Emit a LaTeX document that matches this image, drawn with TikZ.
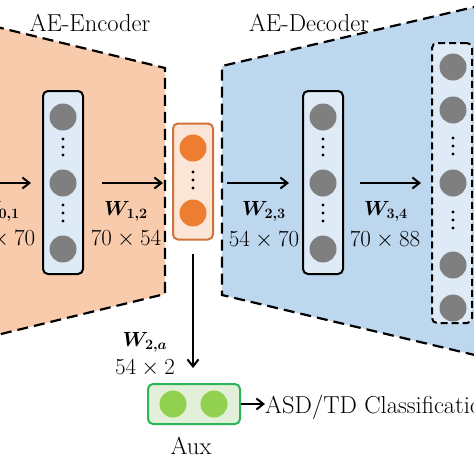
\RequirePackage{fix-cm}
\documentclass[tikz,border=0pt]{standalone}
\usepackage{fontspec}
\usepackage{bm}
\usetikzlibrary{arrows.meta}
\definecolor{encfill}{HTML}{F8CBAD}
\definecolor{decfill}{HTML}{BDD7EE}
\definecolor{colfill}{HTML}{DEEBF7}
\definecolor{neuron}{HTML}{7F7F7F}
\definecolor{orgdraw}{HTML}{D0733A}
\definecolor{orgfill}{HTML}{FBE5D6}
\definecolor{orgdot}{HTML}{ED7D31}
\definecolor{grndraw}{HTML}{2DB35A}
\definecolor{grnfill}{HTML}{E2F0D9}
\definecolor{grndot}{HTML}{92D050}
\tikzset{
  dashline/.style={line width=2.2pt, dash pattern=on 11pt off 6pt},
  colbox/.style={draw=black, line width=2pt, fill=colfill, rounded corners=5pt, inner sep=0pt, minimum width=40pt},
  neur/.style={circle, fill=neuron, minimum size=27pt, inner sep=0pt},
  arr/.style={line width=2pt, -{Straight Barb[length=7pt,width=11pt,line width=2pt]}},
  wlab/.style={inner sep=0pt, anchor=base, font=\fontsize{20.5}{24}\selectfont},
  nlab/.style={inner sep=0pt, anchor=base, font=\fontsize{23}{27}\selectfont},
  txt/.style={inner sep=0pt, font=\fontsize{24.5}{29}\selectfont},
}
\newcommand{\vdotsat}[2]{\foreach \dd in {-8,0,8} \fill (#1,#2+\dd) circle (1.7);}
\begin{document}
\begin{tikzpicture}[x=1pt,y=-1pt]
\useasboundingbox (0,0) rectangle (474,474);
\clip (0,0) rectangle (474,474);
\fill[white] (0,0) rectangle (474,474);
% encoder trapezoid
\fill[encfill] (-40,18) -- (165,68) -- (165,294) -- (-40,344) -- cycle;
\draw[dashline] (-40,18) -- (165,68) -- (165,294) -- (-40,344);
% decoder trapezoid
\fill[decfill] (222,66) -- (500,1) -- (500,361) -- (222,295) -- cycle;
\draw[dashline] (500,1) -- (222,66) -- (222,295) -- (500,361);
% titles
\node[txt, anchor=base] (enc) at (90,31) {AE-Encoder};
\node[txt, anchor=base] (dec) at (309,31) {AE-Decoder};
% encoder column
\node[colbox, minimum height=183pt] (c1) at (63,182.5) {};
\node[neur] (c1a) at (63,117) {};
\node[neur] (c1b) at (63,183) {};
\node[neur] (c1c) at (63,249) {};
\vdotsat{63}{147}
\vdotsat{63}{213}
% middle (latent) box
\node[draw=orgdraw, line width=2pt, fill=orgfill, rounded corners=5pt, minimum width=40pt, minimum height=116pt, inner sep=0pt] (mid) at (193,181.5) {};
\node[circle, fill=orgdot, minimum size=27pt, inner sep=0pt] (m1) at (193,148) {};
\node[circle, fill=orgdot, minimum size=27pt, inner sep=0pt] (m2) at (193,213) {};
\vdotsat{193}{180}
% decoder column
\node[colbox, minimum height=183pt] (c2) at (323,182.5) {};
\node[neur] (c2a) at (323,117) {};
\node[neur] (c2b) at (323,183) {};
\node[neur] (c2c) at (323,249) {};
\vdotsat{323}{147}
\vdotsat{323}{213}
% output column (dashed)
\node[draw=black, line width=2pt, dash pattern=on 7pt off 4pt, fill=colfill, rounded corners=5pt, minimum width=40pt, minimum height=280pt, inner sep=0pt] (c3) at (452,183) {};
\node[neur] (c3a) at (453,67) {};
\node[neur] (c3b) at (453,110) {};
\node[neur] (c3c) at (453,183) {};
\node[neur] (c3d) at (453,265) {};
\node[neur] (c3e) at (453,308) {};
\vdotsat{453}{146}
\vdotsat{453}{220}
% arrows between layers
\coordinate (in0) at (-5,183);
\coordinate (in1) at (31,183);
\draw[arr] (in0) -- (in1);
\coordinate (e0) at (102,183);
\coordinate (e1) at (163,183);
\draw[arr] (e0) -- (e1);
\coordinate (d0) at (227,183);
\coordinate (d1) at (289,183);
\draw[arr] (d0) -- (d1);
\coordinate (o0) at (360,183);
\coordinate (o1) at (421,183);
\draw[arr] (o0) -- (o1);
% weight labels
\node[wlab] (w01) at (-2,215) {$\bm{W}_{\bm{0,1}}$};
\node[nlab] (n01) at (0,245) {$88\times70$};
\node[wlab] (w12) at (126,215) {$\bm{W}_{\bm{1,2}}$};
\node[nlab] (n12) at (126,245) {$70\times54$};
\node[wlab] (w23) at (264,215) {$\bm{W}_{\bm{2,3}}$};
\node[nlab] (n23) at (264,246) {$54\times70$};
\node[wlab] (w34) at (386,215) {$\bm{W}_{\bm{3,4}}$};
\node[nlab] (n34) at (385,246) {$70\times88$};
% auxiliary branch
\node[draw=grndraw, line width=2pt, fill=grnfill, rounded corners=5pt, minimum width=92pt, minimum height=40pt, inner sep=0pt] (aux) at (194,404) {};
\node[circle, fill=grndot, minimum size=27pt, inner sep=0pt] (g1) at (173,404) {};
\node[circle, fill=grndot, minimum size=27pt, inner sep=0pt] (g2) at (214,404) {};
\coordinate (a0) at (193,254);
\coordinate (a1) at (193,368);
\draw[arr] (a0) -- (a1);
\node[wlab] (w2a) at (145,346) {$\bm{W}_{\bm{2,a}}$};
\node[nlab] (n2a) at (145,374) {$54\times2$};
\node[txt, anchor=base] (auxl) at (191,454) {Aux};
\node[txt, anchor=base west] (cls) at (265,413) {ASD/TD Classification};
\draw[arr] (aux.east) -- (cls.west |- aux.east);
\end{tikzpicture}
\end{document}
